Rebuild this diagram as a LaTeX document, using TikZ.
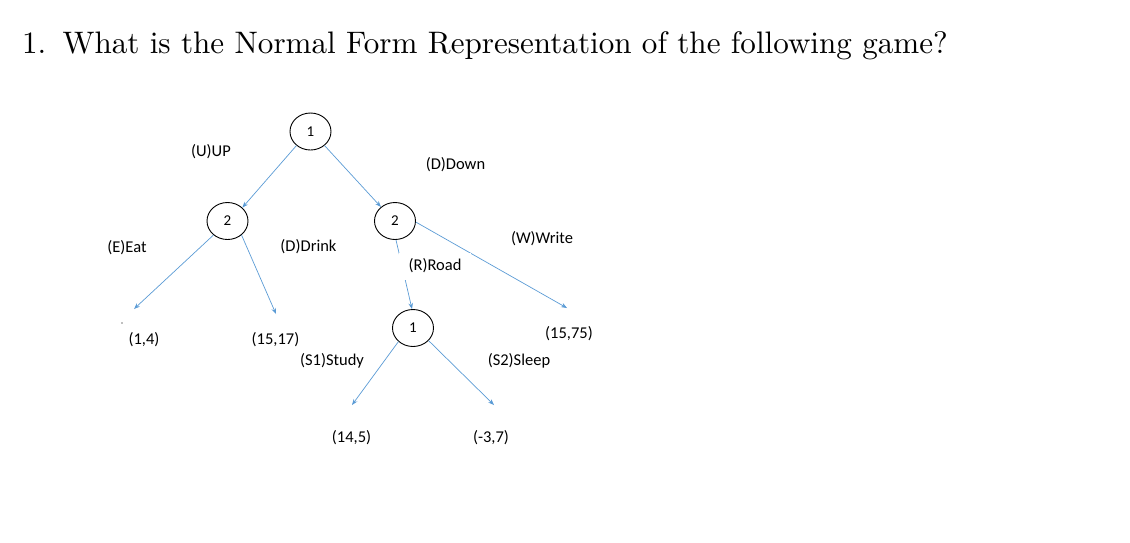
\documentclass[tikz,border=0pt]{standalone}
\usepackage{fontspec}
\usepackage{graphicx}
\newfontfamily\lab{Carlito}
\usetikzlibrary{shapes.geometric,arrows.meta}
\definecolor{edgeblue}{RGB}{91,155,213}
\tikzset{
  player/.style={ellipse,draw=black,line width=0.9pt,minimum width=41pt,minimum height=37pt,inner sep=0pt,font=\lab\fontsize{15}{17}\selectfont},
  lbl/.style={inner sep=0pt,font=\lab\fontsize{16.5}{19}\selectfont},
  move/.style={draw=edgeblue,line width=0.7pt,-{Stealth[length=6pt,width=4.5pt]}}
}
\begin{document}
\begin{tikzpicture}[x=1pt,y=-1pt]
\useasboundingbox (0,0) rectangle (1130,542);
% title
\node[anchor=base west,inner sep=0pt] (title) at (22,53) {\scalebox{3.11}{\fontsize{10}{12}\selectfont 1.\hspace{5.2pt}What is the Normal Form Representation of the following game?}};
% decision nodes
\node[player] (t1) at (310.5,131.5) {1};
\node[player] (l2) at (227.5,221) {2};
\node[player] (r2) at (395,221) {2};
\node[player] (b1) at (413,328) {1};
% arrow tips of terminal moves
\coordinate (eTip) at (134,309);
\coordinate (dTip) at (276,314);
\coordinate (wTip) at (567,308);
\coordinate (sTip) at (352,405);
\coordinate (pTip) at (494,405);
% moves
\draw[move] (t1.225) -- (l2.42);
\draw[move] (t1.-45) -- (r2.135);
\draw[move] (l2.225) -- (eTip);
\draw[move] (l2.-45) -- (dTip);
\draw[move] (r2.-3) -- (wTip);
\draw[move] (r2.-87) -- (b1.93);
\draw[move] (b1.223) -- (sTip);
\draw[move] (b1.-39) -- (pTip);
% move labels
\node[lbl] (uLab) at (211,152) {(U)UP};
\node[lbl] (dnLab) at (455.5,165) {(D)Down};
\node[lbl] (eLab) at (127,248) {(E)Eat};
\node[lbl] (drLab) at (308.5,247) {(D)Drink};
\node[lbl,fill=white,inner xsep=10pt,minimum height=27pt] (rLab) at (435,266) {(R)Road};
\node[lbl] (wLab) at (542,239) {(W)Write};
\node[lbl] (s1Lab) at (332,361) {(S1)Study};
\node[lbl] (s2Lab) at (519,361) {(S2)Sleep};
% payoffs
\node[lbl] (p1) at (144,340) {(1,4)};
\node[lbl] (p2) at (275.5,340) {(15,17)};
\node[lbl] (p3) at (569,334) {(15,75)};
\node[lbl] (p4) at (351.5,438) {(14,5)};
\node[lbl] (p5) at (491,438) {(-3,7)};
% stray dot
\fill[gray] (122,323) circle (0.8);
\end{tikzpicture}
\end{document}
